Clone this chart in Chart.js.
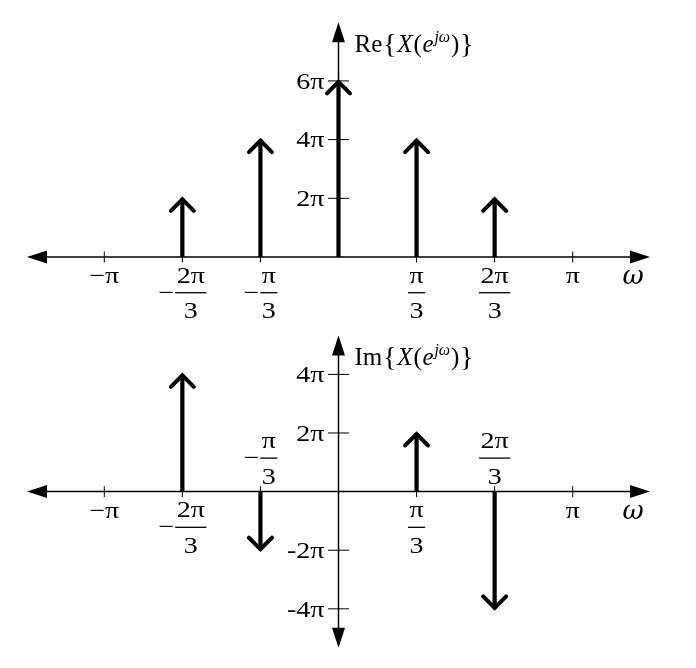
<!DOCTYPE html>
<html><head><meta charset="utf-8">
<script src="https://cdn.jsdelivr.net/npm/chart.js@4/dist/chart.umd.min.js"></script>
<style>
html,body{margin:0;padding:0;background:#fff;}
#wrap{position:relative;width:696px;height:668px;background:#fff;}
#c1{position:absolute;left:0;top:0;}
#c2{position:absolute;left:0;top:330px;}
</style></head><body>
<div id="wrap">
<canvas id="c1" width="696" height="330"></canvas>
<canvas id="c2" width="696" height="338"></canvas>
</div>
<script>
// ---- data (all values in units of π) ----
const xTickValues = [-1, -2/3, -1/3, 1/3, 2/3, 1];
const xTickLabels = ['−π', '−2π/3', '−π/3', 'π/3', '2π/3', 'π'];
const reOmega = [-2/3, -1/3, 0, 1/3, 2/3];
const reValues = [2, 4, 6, 4, 2];
const imOmega = [-2/3, -1/3, 1/3, 2/3];
const imValues = [4, -2, 2, -4];
const reYTicks = [2, 4, 6];
const reYLabels = ['2π', '4π', '6π'];
const imYTicks = [4, 2, -2, -4];
const imYLabels = ['4π', '2π', '-2π', '-4π'];
const reTitle = 'Re';
const imTitle = 'Im';
const xAxisTitle = 'ω';

const SERIF = '"Liberation Serif", "DejaVu Serif", serif';
const TICK_FONT = '23px ' + SERIF;
const SX = 1.22; // horizontal widening of tick-label text

function stems(xs, ys) {
  const d = [];
  xs.forEach((x, i) => { d.push({x: x, y: 0}, {x: x, y: ys[i]}, {x: x, y: null}); });
  return d;
}

function tri(ctx, x, y, dir) {
  const L = 20, W = 6.5;
  ctx.beginPath();
  if (dir === 'left') { ctx.moveTo(x, y); ctx.lineTo(x + L, y - W); ctx.lineTo(x + L, y + W); }
  else if (dir === 'right') { ctx.moveTo(x, y); ctx.lineTo(x - L, y - W); ctx.lineTo(x - L, y + W); }
  else if (dir === 'up') { ctx.moveTo(x, y); ctx.lineTo(x - W, y + L); ctx.lineTo(x + W, y + L); }
  else { ctx.moveTo(x, y); ctx.lineTo(x - W, y - L); ctx.lineTo(x + W, y - L); }
  ctx.closePath(); ctx.fill();
}

function txt(ctx, s, x, y, align) {
  ctx.save();
  ctx.translate(x, y);
  ctx.scale(SX, 1);
  ctx.textAlign = align;
  ctx.textBaseline = 'alphabetic';
  ctx.fillText(s, 0, 0);
  ctx.restore();
}

function drawXLabel(ctx, px, y0, label, above) {
  ctx.font = TICK_FONT;
  if (label.indexOf('/') >= 0) {
    let sign = '', s = label;
    if (s[0] === '−') { sign = '−'; s = s.slice(1); }
    const parts = s.split('/');
    const numW = ctx.measureText(parts[0]).width * SX, denW = ctx.measureText(parts[1]).width * SX;
    const barW = Math.max(numW, denW) + 3;
    const signW = sign ? ctx.measureText(sign).width * SX + 1 : 0;
    const left = px - (signW + barW) / 2;
    const barY = above ? y0 - 33.5 : y0 + 35.7;
    if (sign) txt(ctx, sign, left, barY + 6.8, 'left');
    ctx.fillRect(left + signW, barY - 0.65, barW, 1.3);
    const cx = left + signW + barW / 2;
    txt(ctx, parts[0], cx, barY - 10, 'center');
    txt(ctx, parts[1], cx, barY + 25.5, 'center');
  } else {
    txt(ctx, label, px, y0 + 26, 'center');
  }
}

function drawTitle(ctx, x, y, name) {
  ctx.textAlign = 'left'; ctx.textBaseline = 'alphabetic';
  const pieces = [
    [name, '25px ' + SERIF, 0],
    ['{', '28px ' + SERIF, 1],
    ['X', 'italic 25px ' + SERIF, 0],
    ['(', '25px ' + SERIF, 0],
    ['e', 'italic 25px ' + SERIF, 0],
    ['jω', 'italic 16px ' + SERIF, -10],
    [')', '25px ' + SERIF, 0],
    ['}', '28px ' + SERIF, 1]
  ];
  let cx = x;
  pieces.forEach(p => {
    ctx.font = p[1];
    ctx.fillText(p[0], cx, y + p[2]);
    cx += ctx.measureText(p[0]).width + 0.8;
  });
}

function impulsePlugin(cfg) {
  return {
    id: 'impulseAxes',
    beforeDatasetsDraw(chart) {
      const ctx = chart.ctx, a = chart.chartArea, xs = chart.scales.x, ys = chart.scales.y;
      const y0 = ys.getPixelForValue(0), x0 = xs.getPixelForValue(0);
      ctx.save();
      ctx.strokeStyle = '#000'; ctx.fillStyle = '#000';
      ctx.lineWidth = 1.5;
      // x axis
      ctx.beginPath(); ctx.moveTo(a.left + 10, y0); ctx.lineTo(a.right - 10, y0); ctx.stroke();
      tri(ctx, a.left, y0, 'left'); tri(ctx, a.right, y0, 'right');
      // y axis
      ctx.beginPath(); ctx.moveTo(x0, a.top + 10);
      ctx.lineTo(x0, cfg.bottomArrow ? a.bottom - 10 : y0); ctx.stroke();
      tri(ctx, x0, a.top, 'up');
      if (cfg.bottomArrow) tri(ctx, x0, a.bottom, 'down');
      // x ticks
      ctx.lineWidth = 1;
      xTickValues.forEach(v => {
        const px = xs.getPixelForValue(v);
        ctx.beginPath(); ctx.moveTo(px, y0 - 5.5); ctx.lineTo(px, y0 + 5.5); ctx.stroke();
      });
      // y ticks + labels
      cfg.yTicks.forEach((v, i) => {
        const py = ys.getPixelForValue(v);
        ctx.beginPath(); ctx.moveTo(x0 - 10.5, py); ctx.lineTo(x0 + 10.5, py); ctx.stroke();
        ctx.font = TICK_FONT;
        txt(ctx, cfg.yLabels[i], x0 - 14, py + 7.8, 'right');
      });
      // x labels
      xTickValues.forEach((v, i) => {
        let above = false;
        cfg.omega.forEach((w, k) => { if (Math.abs(w - v) < 1e-9 && cfg.values[k] < 0) above = true; });
        drawXLabel(ctx, xs.getPixelForValue(v), y0, xTickLabels[i], above);
      });
      // omega
      ctx.font = 'italic 26px "DejaVu Serif", serif'; ctx.textAlign = 'center'; ctx.textBaseline = 'alphabetic';
      ctx.fillText(xAxisTitle, a.right - 17, y0 + 27);
      // title
      drawTitle(ctx, x0 + 16, a.top + 29.7, cfg.title);
      ctx.restore();
    },
    afterDatasetsDraw(chart) {
      const ctx = chart.ctx, xs = chart.scales.x, ys = chart.scales.y;
      ctx.save();
      ctx.strokeStyle = '#000'; ctx.lineWidth = 4; ctx.lineCap = 'round'; ctx.lineJoin = 'miter';
      cfg.omega.forEach((w, k) => {
        const v = cfg.values[k];
        if (v === 0) return;
        const px = xs.getPixelForValue(w), py = ys.getPixelForValue(v);
        const s = v > 0 ? 1 : -1;
        const ay = py + s * 1;
        ctx.beginPath();
        ctx.moveTo(px - 11.5, ay + s * 11.5); ctx.lineTo(px, ay); ctx.lineTo(px + 11.5, ay + s * 11.5);
        ctx.stroke();
      });
      ctx.restore();
    }
  };
}

function makeChart(id, omega, values, yTicks, yLabels, yMin, yMax, pad, title, bottomArrow) {
  return new Chart(document.getElementById(id), {
    type: 'line',
    data: { datasets: [{
      data: stems(omega, values), borderColor: '#000', borderWidth: 4.2, borderCapStyle: 'butt',
      pointRadius: 0, spanGaps: false, tension: 0, fill: false
    }] },
    options: {
      responsive: false, animation: false, events: [],
      layout: { padding: pad },
      plugins: { legend: { display: false }, tooltip: { enabled: false } },
      scales: {
        x: { type: 'linear', min: -1.33, max: 1.33, display: false },
        y: { type: 'linear', min: yMin, max: yMax, display: false }
      }
    },
    plugins: [impulsePlugin({ omega, values, yTicks, yLabels, title, bottomArrow })]
  });
}

makeChart('c1', reOmega, reValues, reYTicks, reYLabels, -2, 8,
  { left: 27, right: 46, top: 22.2, bottom: 14.3 }, reTitle, false);
makeChart('c2', imOmega, imValues, imYTicks, imYLabels, -5.33, 5.33,
  { left: 27, right: 46, top: 5.4, bottom: 20.2 }, imTitle, true);
</script>
</body></html>
